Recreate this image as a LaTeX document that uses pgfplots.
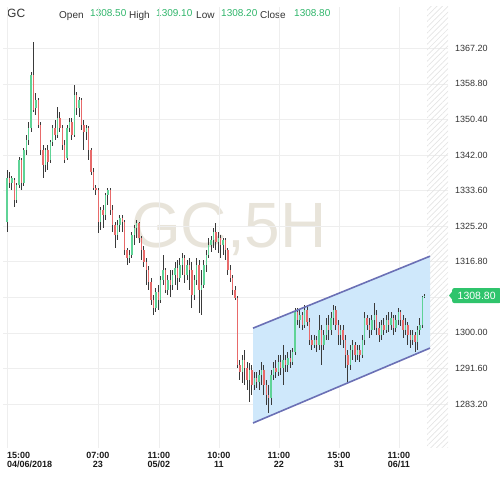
\documentclass[border=0pt]{standalone}
\usepackage{fontspec}
\setmainfont{Liberation Sans}
\usepackage{pgfplots}
\usepackage{pgfplotstable}
\pgfplotsset{compat=1.18}
\usetikzlibrary{patterns.meta}

\definecolor{upGreen}{HTML}{5FD396}
\definecolor{downRed}{HTML}{E86A6A}
\definecolor{wick}{HTML}{3A3A3A}
\definecolor{gridGray}{HTML}{EEEEEE}
\definecolor{chanFill}{HTML}{CFE8FB}
\definecolor{chanLine}{HTML}{6B70B5}
\definecolor{valGreen}{HTML}{2FB56A}
\definecolor{tagGreen}{HTML}{2FC46C}
\definecolor{wmColor}{HTML}{E8E4DA}
\definecolor{labGray}{HTML}{333333}
\definecolor{hatchGray}{HTML}{E4E4E4}

\newcommand{\tl}[2]{\begin{tabular}{@{}c@{}}#1\\#2\end{tabular}}

% GC 5-hour candles: index, open, high, low, close
\pgfplotstableread{
k o h l c
0 1326.2 1338.5 1323.8 1336.6
1 1336.6 1338.0 1334.2 1335.4
2 1335.4 1337.0 1333.7 1336.6
3 1336.1 1336.6 1329.7 1331.4
4 1331.4 1335.4 1330.7 1334.9
5 1334.9 1341.5 1334.2 1340.8
6 1340.8 1341.3 1333.7 1335.4
7 1335.4 1343.7 1334.7 1343.2
8 1343.2 1346.7 1342.0 1345.5
9 1345.5 1349.8 1344.4 1348.4
10 1348.4 1361.6 1347.4 1360.9
11 1360.9 1368.7 1352.2 1352.6
12 1353.1 1356.6 1351.4 1355.0
13 1355.0 1355.5 1348.4 1349.1
14 1349.1 1349.8 1342.0 1343.2
15 1343.2 1344.4 1336.6 1339.6
16 1339.6 1343.7 1338.0 1343.2
17 1343.2 1344.4 1338.5 1340.3
18 1340.8 1345.5 1340.1 1345.1
19 1345.1 1349.1 1344.1 1348.4
20 1348.4 1350.3 1345.5 1346.7
21 1346.7 1353.3 1346.0 1350.7
22 1350.7 1352.2 1347.4 1348.4
23 1348.4 1349.1 1343.2 1344.4
24 1344.4 1345.5 1340.1 1340.8
25 1341.3 1349.1 1340.8 1348.4
26 1348.4 1350.7 1347.4 1349.8
27 1349.8 1350.7 1345.5 1346.7
28 1346.7 1358.5 1346.2 1356.2
29 1356.2 1356.9 1351.4 1353.1
30 1353.1 1355.7 1351.0 1355.0
31 1355.0 1355.5 1347.9 1349.1
32 1349.1 1350.3 1343.2 1347.4
33 1347.4 1349.1 1345.5 1348.4
34 1348.4 1348.9 1340.8 1343.2
35 1343.2 1343.7 1337.3 1338.0
36 1338.0 1338.9 1333.7 1334.2
37 1334.2 1334.9 1332.6 1333.7
38 1333.7 1334.2 1323.6 1326.2
39 1326.2 1329.7 1324.3 1329.0
40 1329.0 1330.2 1324.8 1327.8
41 1327.8 1333.0 1326.7 1332.6
42 1332.6 1334.2 1330.2 1333.7
43 1333.7 1334.2 1327.8 1329.0
44 1329.0 1330.2 1323.8 1325.5
45 1325.5 1326.2 1320.0 1323.1
46 1323.1 1326.7 1321.9 1325.5
47 1325.5 1327.8 1323.8 1327.1
48 1327.1 1327.8 1323.8 1326.2
49 1326.2 1326.7 1318.4 1319.6
50 1319.6 1320.0 1316.0 1317.7
51 1317.7 1319.6 1316.5 1318.4
52 1318.4 1323.8 1317.7 1323.1
53 1323.1 1325.5 1320.7 1324.8
54 1324.8 1326.7 1322.4 1325.9
55 1325.9 1326.2 1321.2 1322.4
56 1322.4 1322.9 1317.2 1319.6
57 1319.6 1320.5 1315.5 1316.7
58 1316.7 1317.7 1311.3 1314.8
59 1314.8 1315.8 1310.1 1312.0
60 1312.0 1313.0 1306.6 1307.8
61 1307.8 1308.9 1304.2 1305.9
62 1305.9 1310.6 1304.9 1309.6
63 1309.6 1311.3 1305.4 1307.8
64 1307.8 1313.4 1307.0 1312.5
65 1312.5 1318.4 1311.3 1314.8
66 1314.8 1315.3 1309.4 1310.1
67 1310.1 1313.7 1308.9 1312.5
68 1312.5 1314.8 1308.5 1311.3
69 1311.3 1314.8 1310.1 1313.7
70 1313.7 1316.7 1311.3 1315.3
71 1315.3 1317.2 1310.1 1313.0
72 1313.0 1317.7 1312.0 1316.0
73 1316.0 1318.9 1313.7 1317.7
74 1317.7 1318.4 1311.8 1313.7
75 1313.7 1317.2 1312.5 1316.0
76 1316.0 1317.7 1310.1 1314.8
77 1314.8 1316.7 1305.9 1308.9
78 1308.9 1313.7 1307.8 1312.5
79 1312.5 1317.7 1311.3 1316.0
80 1316.0 1317.2 1304.7 1310.1
81 1310.1 1314.8 1304.2 1311.3
82 1311.3 1317.2 1310.6 1316.0
83 1316.0 1319.6 1314.4 1318.4
84 1318.4 1322.4 1317.7 1320.7
85 1320.7 1322.9 1319.1 1321.9
86 1321.9 1324.8 1320.0 1323.8
87 1323.8 1325.9 1319.6 1321.5
88 1321.5 1323.8 1318.9 1322.4
89 1322.4 1323.1 1317.7 1320.7
90 1320.7 1322.4 1318.4 1321.9
91 1321.9 1322.4 1317.2 1319.6
92 1319.6 1320.0 1313.7 1314.8
93 1314.8 1316.0 1312.0 1313.0
94 1313.0 1313.7 1308.9 1310.1
95 1310.1 1311.1 1307.8 1308.2
96 1308.2 1308.7 1291.7 1292.4
97 1292.4 1293.6 1288.9 1290.7
98 1290.7 1294.8 1288.2 1293.6
99 1293.6 1295.9 1287.7 1291.7
100 1291.7 1293.1 1286.5 1288.9
101 1288.9 1292.9 1283.7 1291.2
102 1291.2 1292.4 1285.3 1287.7
103 1287.7 1290.7 1286.5 1289.3
104 1289.3 1290.7 1287.0 1288.4
105 1288.4 1291.2 1286.5 1290.0
106 1290.0 1293.1 1287.7 1291.2
107 1291.2 1292.4 1285.3 1287.7
108 1287.7 1288.9 1283.0 1285.3
109 1285.3 1287.7 1281.1 1284.6
110 1284.6 1291.2 1283.0 1290.0
111 1290.0 1293.1 1288.9 1291.7
112 1291.7 1293.6 1289.3 1290.7
113 1290.7 1294.8 1289.8 1293.1
114 1293.1 1294.8 1290.0 1291.7
115 1291.7 1297.1 1287.7 1293.6
116 1293.6 1294.8 1290.7 1292.4
117 1292.4 1295.5 1290.7 1294.1
118 1294.1 1295.9 1291.7 1293.1
119 1293.1 1296.4 1292.4 1295.5
120 1295.5 1305.9 1294.8 1304.9
121 1304.9 1305.9 1301.8 1303.0
122 1303.0 1305.4 1301.1 1304.2
123 1304.2 1304.9 1300.7 1301.8
124 1301.8 1306.6 1301.1 1305.4
125 1305.4 1306.6 1301.6 1302.6
126 1302.6 1303.5 1297.1 1298.3
127 1298.3 1299.5 1295.9 1297.1
128 1297.1 1299.5 1296.4 1298.3
129 1298.3 1299.3 1295.5 1297.1
130 1297.1 1304.2 1295.9 1300.7
131 1300.7 1301.8 1292.4 1297.1
132 1297.1 1300.7 1295.9 1299.5
133 1299.5 1303.5 1298.3 1301.8
134 1301.8 1304.2 1298.3 1300.7
135 1300.7 1304.9 1299.5 1303.5
136 1303.5 1306.6 1301.8 1305.4
137 1305.4 1306.3 1300.7 1301.8
138 1301.8 1303.0 1297.1 1299.5
139 1299.5 1301.8 1297.1 1300.7
140 1300.7 1301.8 1296.4 1298.3
141 1298.3 1299.5 1291.7 1294.8
142 1294.8 1295.9 1288.4 1292.4
143 1292.4 1297.1 1291.2 1295.9
144 1295.9 1298.3 1293.6 1297.1
145 1297.1 1297.8 1293.1 1294.8
146 1294.8 1297.1 1293.6 1295.9
147 1295.9 1297.1 1293.1 1294.8
148 1294.8 1299.5 1294.1 1298.3
149 1298.3 1304.9 1297.1 1303.5
150 1303.5 1304.2 1300.7 1301.8
151 1301.8 1303.5 1298.8 1300.7
152 1300.7 1304.2 1299.5 1303.0
153 1303.0 1307.0 1300.7 1304.2
154 1304.2 1305.4 1299.5 1301.1
155 1301.1 1302.6 1297.8 1299.5
156 1299.5 1303.0 1298.3 1301.8
157 1301.8 1303.5 1299.5 1300.7
158 1300.7 1304.2 1300.0 1303.0
159 1303.0 1304.9 1300.2 1301.8
160 1301.8 1304.9 1300.7 1303.5
161 1303.5 1304.2 1299.5 1301.1
162 1301.1 1304.2 1300.2 1303.0
163 1303.0 1305.9 1301.8 1304.9
164 1304.9 1305.4 1301.6 1303.0
165 1303.0 1304.2 1298.8 1300.7
166 1300.7 1303.5 1299.5 1301.8
167 1301.8 1302.6 1297.1 1299.5
168 1299.5 1300.7 1296.4 1298.3
169 1298.3 1300.7 1297.1 1299.5
170 1299.5 1300.2 1295.5 1297.8
171 1297.8 1301.6 1295.9 1300.7
172 1300.7 1303.5 1299.5 1301.8
173 1301.8 1308.7 1301.1 1308.5
174 1308.5 1309.1 1308.2 1308.8
}\candles

\begin{document}
\begin{tikzpicture}[x=1bp,y=1bp]
\useasboundingbox (0,0) rectangle (500,477);

% header line
\node[anchor=base west, inner sep=0pt, text=labGray, font=\fontsize{12bp}{12bp}\selectfont] at (7,459.3) {GC};
\begin{scope}[every node/.style={anchor=base west, inner sep=0pt, font=\fontsize{10bp}{10bp}\selectfont}]
\node[text=labGray] at (59,458.7) {Open};
\node[text=valGreen] at (90,460.3) {1308.50};
\node[text=labGray] at (129,458.7) {High};
\node[text=valGreen] at (156,460.3) {1309.10};
\node[text=labGray] at (196,458.7) {Low};
\node[text=valGreen] at (221,460.3) {1308.20};
\node[text=labGray] at (260,458.7) {Close};
\node[text=valGreen] at (294,460.3) {1308.80};
\end{scope}

% symbol watermark
\node[anchor=base west, inner sep=0pt, text=wmColor, xscale=1.0,
      font=\fontsize{64bp}{64bp}\selectfont] at (131,229) {GC,5H};

\begin{axis}[
  at={(3bp,29bp)}, anchor=south west,
  scale only axis, width=445bp, height=441bp,
  xmin=-1.67, xmax=183.75, ymin=1272.8, ymax=1376.95,
  axis line style={draw=none},
  major tick length=0pt,
  grid=major, grid style={gridGray, line width=0.6bp},
  xtick={0,37.9,63.3,88.3,113.3,138.3,163.3},
  xticklabels={
    {\rlap{\begin{tabular}{@{}l@{}}15:00\\04/06/2018\end{tabular}}},
    {\tl{07:00}{23}}, {\tl{11:00}{05/02}}, {\tl{10:00}{11}},
    {\tl{11:00}{22}}, {\tl{15:00}{31}}, {\tl{11:00}{06/11}}},
  xticklabel style={inner sep=0pt, anchor=north, yshift=-4bp,
    text=black!90, font=\fontsize{9bp}{9bp}\selectfont\bfseries},
  ytick={1283.2,1291.6,1300,1308.4,1316.8,1325.2,1333.6,1342,1350.4,1358.8,1367.2},
  yticklabels={1283.20,1291.60,1300.00,,1316.80,1325.20,1333.60,1342.00,1350.40,1358.80,1367.20},
  yticklabel pos=right,
  yticklabel style={anchor=west, inner sep=0pt, xshift=7bp, text=labGray,
    font=\fontsize{9bp}{9bp}\selectfont},
  clip=false,
]

% hatched area right of the last bar
\addplot[draw=none, fill=white, pattern={Lines[angle=45, distance=4bp, line width=0.7bp]},
  pattern color=hatchGray, forget plot]
  coordinates {(175,1272.8) (183.75,1272.8) (183.75,1376.95) (175,1376.95)} -- cycle;

% rising channel
\addplot[draw=none, fill=chanFill, forget plot]
  coordinates {(102.5,1301.1) (176.25,1318.1) (176.25,1296.4) (102.5,1278.7)} -- cycle;

% wicks
\addplot[draw=none, mark=none, forget plot,
  error bars/.cd, y dir=both, y explicit, error mark=none,
  error bar style={line width=0.7bp, wick}]
  table[x=k, y expr=(\thisrow{h}+\thisrow{l})/2, y error expr=(\thisrow{h}-\thisrow{l})/2] {\candles};

% rising bodies
\addplot[draw=none, mark=none, forget plot,
  restrict expr to domain={\thisrow{c}-\thisrow{o}}{0:1000},
  error bars/.cd, y dir=both, y explicit, error mark=none,
  error bar style={line width=1.4bp, upGreen}]
  table[x=k, y expr=(\thisrow{o}+\thisrow{c})/2, y error expr=abs(\thisrow{c}-\thisrow{o})/2] {\candles};

% falling bodies
\addplot[draw=none, mark=none, forget plot,
  restrict expr to domain={\thisrow{o}-\thisrow{c}}{0.001:1000},
  error bars/.cd, y dir=both, y explicit, error mark=none,
  error bar style={line width=1.4bp, downRed}]
  table[x=k, y expr=(\thisrow{o}+\thisrow{c})/2, y error expr=abs(\thisrow{c}-\thisrow{o})/2] {\candles};

% channel borders
\addplot[chanLine, line width=1.6bp, forget plot] coordinates {(102.5,1301.1) (176.25,1318.1)};
\addplot[chanLine, line width=1.6bp, forget plot] coordinates {(102.5,1278.7) (176.25,1296.4)};

% anchor of the last price tag
\coordinate (lastpx) at (axis cs:183.75,1308.8);
\end{axis}

% last price tag
\fill[tagGreen] ([xshift=1bp]lastpx) -- ([xshift=5bp,yshift=5bp]lastpx) -- ([xshift=5bp,yshift=-5bp]lastpx) -- cycle;
\node[fill=tagGreen, text=white, rounded corners=2bp, anchor=west, inner xsep=5.5bp,
  minimum height=15bp, font=\fontsize{10.5bp}{10.5bp}\selectfont]
  at ([xshift=4bp]lastpx) {1308.80};
\end{tikzpicture}
\end{document}
